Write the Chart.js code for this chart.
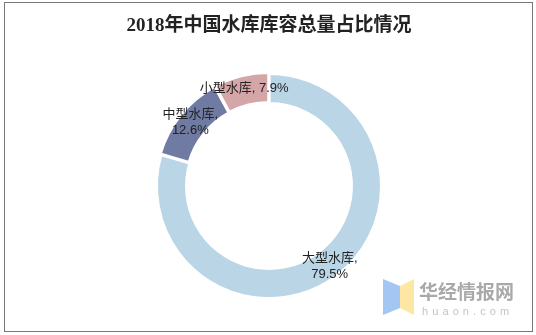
<!DOCTYPE html>
<html>
<head>
<meta charset="utf-8">
<script src="https://cdn.jsdelivr.net/npm/chart.js@4/dist/chart.umd.min.js"></script>
<style>
  body { margin: 0; background: #fff; }
  #caja { position: relative; width: 536px; height: 335px; overflow: hidden; }
  #marco { position: absolute; left: 4px; top: 2px; width: 527px; height: 328px; border: 1px solid #777; }
  #titulo { position: absolute; left: 0; width: 538px; top: 13px; text-align: center;
    font: bold 19px "Liberation Serif", "Noto Sans CJK SC", serif; color: #222; line-height: 24px; }
  #grafica { position: absolute; left: 0; top: 0; width: 536px; height: 335px; }
  #logo { position: absolute; left: 383px; top: 279px; }
  #marca { position: absolute; left: 419px; top: 280px; font: bold 19px "Noto Sans CJK SC", sans-serif;
    color: #a9a9a9; line-height: 22px; letter-spacing: 0px; }
  #web { position: absolute; left: 422px; top: 304px; font: 11px "Liberation Sans", sans-serif;
    color: #c4c4c4; letter-spacing: 4.1px; line-height: 14px; }
</style>
</head>
<body>
<div id="caja">
  <div id="marco"></div>
  <div id="grafica"><canvas id="myChart"></canvas></div>
  <div id="titulo">2018年中国水库库容总量占比情况</div>
  <svg id="logo" width="32" height="36">
    <polygon points="0,0 17,7 17,29 0,36" fill="#a3c6f2"/>
    <polygon points="17,7 31,0 31,36 17,29" fill="#fde7a2"/>
  </svg>
  <div id="marca">华经情报网</div>
  <div id="web">huaon.com</div>
</div>
<script>
let categorias = ["大型水库", "中型水库", "小型水库"];
let valores = [79.5, 12.6, 7.9];
let colores = ["#b9d5e6", "#6f7ba3", "#d4a6a7"];
let saltoLinea = [true, true, false];

// etiquetas sobre el anillo
const etiquetas = {
    id: "etiquetas",
    afterDatasetsDraw(chart) {
        let ctx = chart.ctx;
        let meta = chart.getDatasetMeta(0);
        ctx.save();
        ctx.font = "13px 'Liberation Sans', 'Noto Sans CJK SC', sans-serif";
        ctx.fillStyle = "#222";
        ctx.textAlign = "center";
        ctx.textBaseline = "middle";
        meta.data.forEach(function (arc, i) {
            let p = arc.getProps(["x", "y", "startAngle", "endAngle", "innerRadius", "outerRadius"], true);
            let ang = (p.startAngle + p.endAngle) / 2;
            let r = p.innerRadius + (p.outerRadius - p.innerRadius) * 0.62;
            let x = p.x + Math.cos(ang) * r;
            let y = p.y + Math.sin(ang) * r;
            let pct = valores[i] + "%";
            if (saltoLinea[i]) {
                ctx.fillText(categorias[i] + ",", x, y - 8);
                ctx.fillText(pct, x, y + 8);
            } else {
                ctx.fillText(categorias[i] + ", " + pct, x, y);
            }
        });
        ctx.restore();
    }
};

new Chart("myChart", {
    type: "doughnut",
    data: {
        labels: categorias,
        datasets: [{
            data: valores,
            backgroundColor: colores,
            borderColor: "#fff",
            borderWidth: 3,
            offset: [0, 3, 3],
            hoverOffset: 0
        }]
    },
    options: {
        responsive: true,
        maintainAspectRatio: false,
        animation: false,
        radius: 112.5,
        cutout: "73.3%",
        layout: { padding: { left: 2, top: 37, right: 0, bottom: 0 } },
        plugins: {
            legend: { display: false },
            title: { display: false },
            tooltip: { enabled: false }
        }
    },
    plugins: [etiquetas]
});
</script>
</body>
</html>
